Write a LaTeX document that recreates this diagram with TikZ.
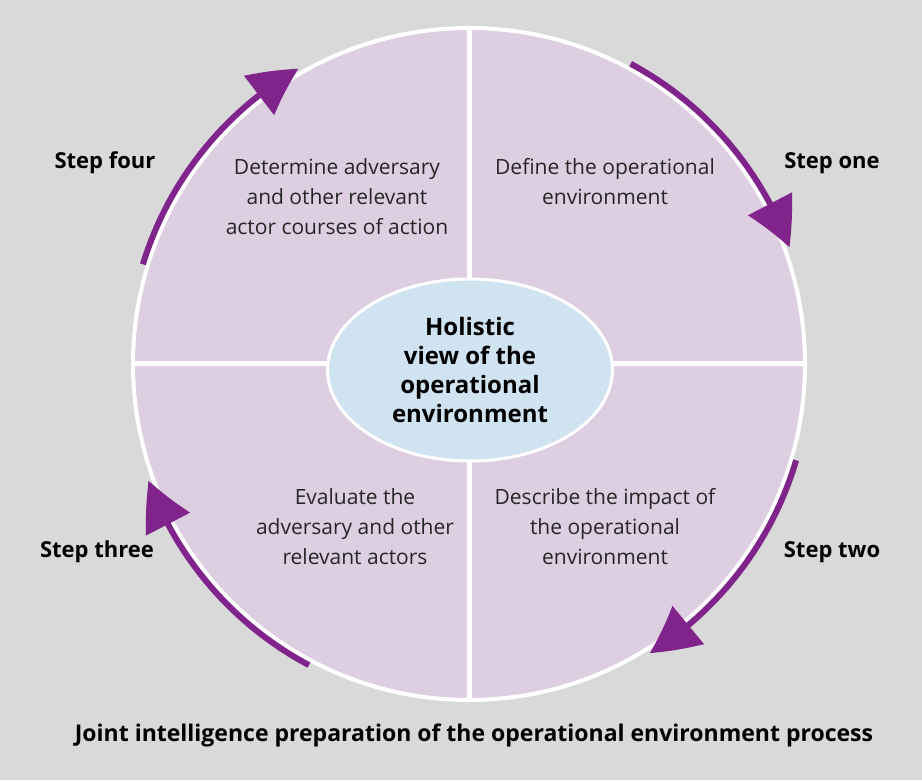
\documentclass[tikz,border=0pt]{standalone}
\usepackage{fontspec}
\setmainfont{Open Sans}
\usetikzlibrary{arrows.meta,shapes.geometric,bending}
\definecolor{bg}{RGB}{217,217,217}
\definecolor{quad}{RGB}{221,206,226}
\definecolor{purp}{RGB}{128,36,140}
\definecolor{core}{RGB}{207,227,240}
\tikzset{
 txt/.style={align=center,font=\fontsize{21}{30}\selectfont,text=black!85},
 steplbl/.style={font=\bfseries\fontsize{22}{26}\selectfont},
 cyc/.style={draw=purp,line width=6pt,-{Triangle[length=48pt,width=48pt,bend]}}
}
\begin{document}
\begin{tikzpicture}[x=1pt,y=1pt]
\fill[bg] (0,0) rectangle (922,780);
\useasboundingbox (0,0) rectangle (922,780);
\coordinate (c) at (469,416);
\fill[quad,draw=white,line width=4pt] (c) circle (336);
\draw[white,line width=5pt] (133,416) -- (805,416) (469,80) -- (469,752);
\node[ellipse,draw=white,line width=3pt,fill=core,minimum width=285pt,minimum height=182pt,inner sep=0pt,align=center,font=\bfseries\fontsize{24}{29}\selectfont] (core) at (470,410) {Holistic\\view of the\\operational\\environment};
\node[txt] (q4) at (337,583) {Determine adversary\\and other relevant\\actor courses of action};
\node[txt] (q1) at (605,598) {Define the operational\\environment};
\node[txt] (q3) at (355,253) {Evaluate the\\adversary and other\\relevant actors};
\node[txt] (q2) at (605,253) {Describe the impact of\\the operational\\environment};
\node[steplbl] (s4) at (105,617) {Step four};
\node[steplbl] (s1) at (832,617) {Step one};
\node[steplbl] (s3) at (97,228) {Step three};
\node[steplbl] (s2) at (832,228) {Step two};
\node[font=\bfseries\fontsize{23}{27}\selectfont] (title) at (474,45) {Joint intelligence preparation of the operational environment process};
\draw[cyc] ([shift={(61.7:341)}]c) arc[start angle=61.7,end angle=20,radius=341];
\draw[cyc] ([shift={(-16.4:341)}]c) arc[start angle=-16.4,end angle=-58,radius=341];
\draw[cyc] ([shift={(-118:341)}]c) arc[start angle=-118,end angle=-160,radius=341];
\draw[cyc] ([shift={(163:341)}]c) arc[start angle=163,end angle=120,radius=341];
\end{tikzpicture}
\end{document}
